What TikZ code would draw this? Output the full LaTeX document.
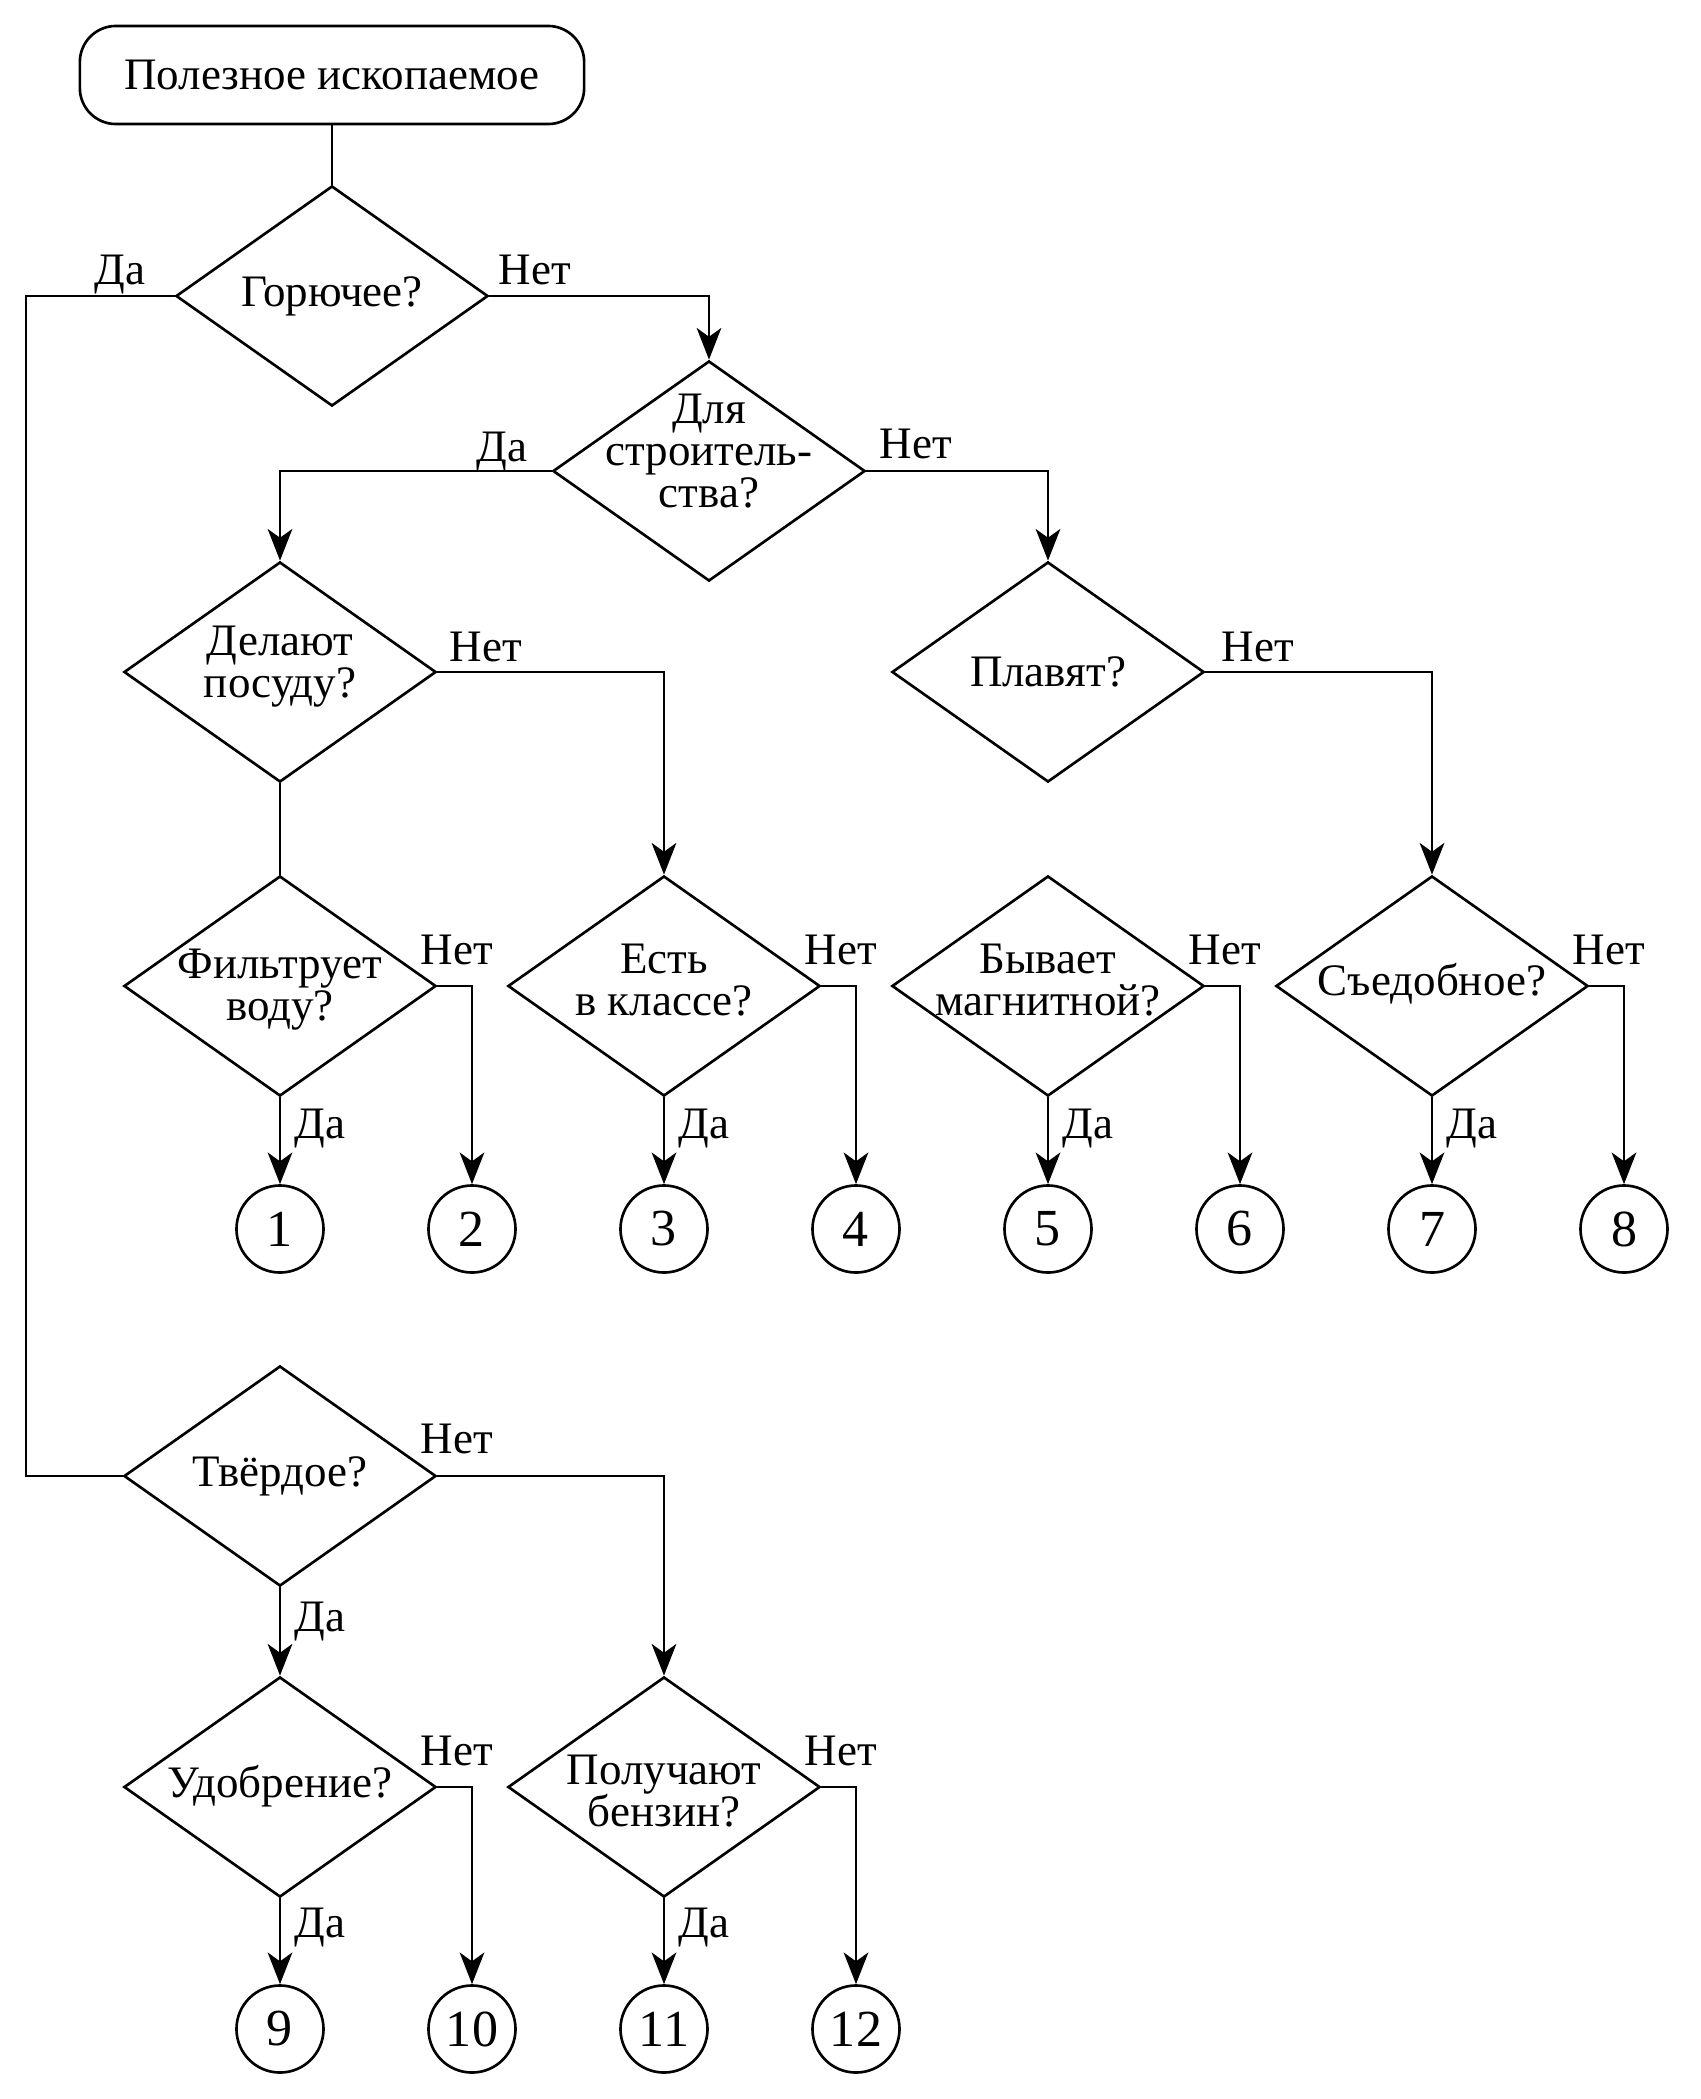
\documentclass[tikz,border=0pt]{standalone}
\usepackage{fontspec}
\setmainfont{Liberation Serif}
\usetikzlibrary{shapes.geometric,arrows.meta}
\begin{document}
\begin{tikzpicture}[x=0.01cm,y=-0.01cm,
  every node/.style={font=\fontsize{12.8}{12}\selectfont},
  dec/.style={draw,diamond,minimum width=3.12cm,minimum height=2.2cm,inner sep=0pt,line width=0.75pt},
  term/.style={draw,rounded corners=0.36cm,minimum width=5.04cm,minimum height=0.98cm,inner sep=0pt,line width=0.75pt},
  res/.style={draw,circle,minimum size=0.87cm,inner sep=0pt,line width=0.75pt,font=\fontsize{14.8}{15}\selectfont},
  lbl/.style={inner sep=0pt},
  qtxt/.style={align=center,inner sep=0pt},
  link/.style={line width=0.75pt},
  arr/.style={link,-{Stealth[length=9pt,width=7pt,inset=2.5pt]}}
]
\path[use as bounding box] (0,0) rectangle (1701,2099);

% nodes
\node[term] (start) at (332,75) {Полезное ископаемое};

\node[dec] (gor) at (332,296) {};
\node[qtxt] (gort) at (332,296) {Горючее?};

\node[dec] (dlya) at (709,471) {};
\node[qtxt] (dlyat) at (709,451) {Для\\строитель-\\ства?};

\node[dec] (del) at (280,672) {};
\node[qtxt] (delt) at (280,667) {Делают\\посуду?};

\node[dec] (plav) at (1048,672) {};
\node[qtxt] (plavt) at (1048,672) {Плавят?};

\node[dec] (filt) at (280,986) {};
\node[qtxt] (filtt) at (280,990) {Фильтрует\\воду?};

\node[dec] (est) at (664,986) {};
\node[qtxt] (estt) at (664,980) {Есть\\в классе?};

\node[dec] (byv) at (1048,986) {};
\node[qtxt] (byvt) at (1048,980) {Бывает\\магнитной?};

\node[dec] (sied) at (1432,986) {};
\node[qtxt] (siedt) at (1432,984) {Съедобное?};

\node[dec] (tv) at (280,1476) {};
\node[qtxt] (tvt) at (280,1476) {Твёрдое?};

\node[dec] (udob) at (280,1787) {};
\node[qtxt] (udobt) at (280,1786) {Удобрение?};

\node[dec] (pol) at (664,1787) {};
\node[qtxt] (polt) at (664,1791) {Получают\\бензин?};

\node[res] (c1) at (280,1229) {1};
\node[res] (c2) at (472,1229) {2};
\node[res] (c3) at (664,1229) {3};
\node[res] (c4) at (856,1229) {4};
\node[res] (c5) at (1048,1229) {5};
\node[res] (c6) at (1240,1229) {6};
\node[res] (c7) at (1432,1229) {7};
\node[res] (c8) at (1624,1229) {8};
\node[res] (c9) at (280,2029) {9};
\node[res] (c10) at (472,2029) {10};
\node[res] (c11) at (664,2029) {11};
\node[res] (c12) at (856,2029) {12};

% connectors
\coordinate (lft) at (26,900);
\draw[link] (start.south) -- (gor.north);
\draw[link] (gor.west) -| (lft) |- (tv.west);
\draw[arr] (gor.east) -| (dlya.north);
\draw[arr] (dlya.west) -| (del.north);
\draw[arr] (dlya.east) -| (plav.north);
\draw[link] (del.south) -- (filt.north);
\draw[arr] (del.east) -| (est.north);
\draw[arr] (plav.east) -| (sied.north);

\draw[arr] (filt.south) -- (c1.north);
\draw[arr] (filt.east) -| (c2.north);
\draw[arr] (est.south) -- (c3.north);
\draw[arr] (est.east) -| (c4.north);
\draw[arr] (byv.south) -- (c5.north);
\draw[arr] (byv.east) -| (c6.north);
\draw[arr] (sied.south) -- (c7.north);
\draw[arr] (sied.east) -| (c8.north);

\draw[arr] (tv.south) -- (udob.north);
\draw[arr] (tv.east) -| (pol.north);
\draw[arr] (udob.south) -- (c9.north);
\draw[arr] (udob.east) -| (c10.north);
\draw[arr] (pol.south) -- (c11.north);
\draw[arr] (pol.east) -| (c12.north);

% branch labels
\node[lbl,anchor=base east] (l1) at (146,284) {Да};
\node[lbl,anchor=base west] (l2) at (498,284) {Нет};
\node[lbl,anchor=base east] (l3) at (528,461) {Да};
\node[lbl,anchor=base west] (l4) at (879,458) {Нет};
\node[lbl,anchor=base west] (l5) at (449,661) {Нет};
\node[lbl,anchor=base west] (l6) at (1221,661) {Нет};

\node[lbl,anchor=base] (l7) at (457,964) {Нет};
\node[lbl,anchor=base] (l8) at (841,964) {Нет};
\node[lbl,anchor=base] (l9) at (1225,964) {Нет};
\node[lbl,anchor=base] (l10) at (1609,964) {Нет};
\node[lbl,anchor=base west] (l11) at (294,1138) {Да};
\node[lbl,anchor=base west] (l12) at (678,1138) {Да};
\node[lbl,anchor=base west] (l13) at (1062,1138) {Да};
\node[lbl,anchor=base west] (l14) at (1446,1138) {Да};

\node[lbl,anchor=base] (l15) at (457,1453) {Нет};
\node[lbl,anchor=base west] (l16) at (294,1631) {Да};
\node[lbl,anchor=base] (l17) at (457,1765) {Нет};
\node[lbl,anchor=base] (l18) at (841,1765) {Нет};
\node[lbl,anchor=base west] (l19) at (294,1937) {Да};
\node[lbl,anchor=base west] (l20) at (678,1937) {Да};
\end{tikzpicture}
\end{document}
